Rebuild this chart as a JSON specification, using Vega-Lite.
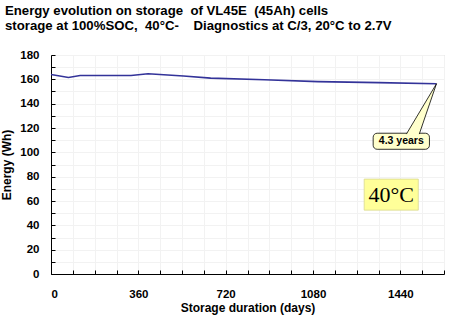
{
  "$schema": "https://vega.github.io/schema/vega-lite/v6.json",
  "autosize": {"type": "none"},
  "padding": {"left": 51, "top": 55, "right": 6, "bottom": 49},
  "width": 393,
  "height": 219,
  "background": "white",
  "title": {
    "text": ["Energy evolution on storage\u00a0 of VL45E\u00a0 (45Ah) cells", "storage at 100%SOC,\u00a0 40°C-\u00a0\u00a0\u00a0 Diagnostics at C/3, 20°C to 2.7V"],
    "anchor": "start",
    "frame": "group",
    "dx": -46,
    "offset": 16,
    "font": "Liberation Sans",
    "fontSize": 13.2,
    "fontWeight": "bold",
    "lineHeight": 15,
    "color": "black"
  },
  "config": {
    "view": {"stroke": "#c8c8c8", "strokeWidth": 1},
    "axis": {
      "labelFont": "Liberation Sans",
      "labelFontSize": 11.5,
      "labelFontWeight": "bold",
      "labelColor": "black",
      "labelOverlap": false,
      "titleFont": "Liberation Sans",
      "titleFontSize": 12,
      "titleFontWeight": "bold",
      "titleColor": "black",
      "domainColor": "black",
      "tickColor": "black",
      "gridColor": "#f2f2f2"
    }
  },
  "encoding": {
    "x": {
      "field": "x", "type": "quantitative",
      "scale": {"domain": [0, 1620], "nice": false},
      "axis": {
        "title": "Storage duration (days)",
        "values": [0, 90, 180, 270, 360, 450, 540, 630, 720, 810, 900, 990, 1080, 1170, 1260, 1350, 1440, 1530, 1620],
        "labelExpr": "datum.value % 360 === 0 && datum.value < 1600 ? datum.label : ''",
        "labelOverlap": false,
        "tickSize": -4,
        "labelPadding": 18,
        "titlePadding": 3,
        "format": "d"
      }
    },
    "y": {
      "field": "y", "type": "quantitative",
      "scale": {"domain": [0, 180], "nice": false},
      "axis": {
        "title": "Energy (Wh)",
        "values": [0, 10, 20, 30, 40, 50, 60, 70, 80, 90, 100, 110, 120, 130, 140, 150, 160, 170, 180],
        "labelExpr": "datum.value % 20 === 0 ? datum.label : ''",
        "labelOverlap": false,
        "tickSize": -4,
        "labelPadding": 16,
        "titlePadding": 6
      }
    }
  },
  "layer": [
    {
      "data": {"values": [
        {"x": 0, "y": 164.0},
        {"x": 72, "y": 161.5},
        {"x": 120, "y": 163.2},
        {"x": 330, "y": 163.2},
        {"x": 400, "y": 164.6},
        {"x": 546, "y": 162.7},
        {"x": 658, "y": 161.0},
        {"x": 880, "y": 159.6},
        {"x": 1100, "y": 158.1},
        {"x": 1350, "y": 157.3},
        {"x": 1589, "y": 156.4}
      ]},
      "mark": {"type": "line", "color": "#333399", "strokeWidth": 1.6}
    },
    {
      "data": {"values": [{"x": 1291, "x2": 1514, "y": 52.5, "y2": 78}]},
      "mark": {"type": "rect", "fill": "#ffff99", "stroke": "#d8d890", "strokeWidth": 0.8},
      "encoding": {
        "x2": {"field": "x2"},
        "y2": {"field": "y2"}
      }
    },
    {
      "data": {"values": [{"x": 1402, "y": 65.2, "label": "40°C"}]},
      "mark": {"type": "text", "font": "Liberation Serif", "fontSize": 22, "color": "black", "align": "center", "baseline": "middle"},
      "encoding": {
        "text": {"field": "label"}
      }
    },
    {
      "data": {"values": [{"x": 1328, "x2": 1560, "y": 102.5, "y2": 115.7}]},
      "mark": {"type": "rect", "fill": "#ffffcc", "stroke": "black", "strokeWidth": 0.8, "cornerRadius": 4},
      "encoding": {
        "x2": {"field": "x2"},
        "y2": {"field": "y2"}
      }
    },
    {
      "data": {"values": [
        {"x": 1465, "y": 115.0, "o": 1},
        {"x": 1589, "y": 156.4, "o": 2},
        {"x": 1518, "y": 115.0, "o": 3}
      ]},
      "mark": {"type": "line", "fill": "#ffffcc", "stroke": "black", "strokeWidth": 0.8},
      "encoding": {
        "order": {"field": "o"}
      }
    },
    {
      "data": {"values": [{"x": 1444, "y": 109.1, "label": "4.3 years"}]},
      "mark": {"type": "text", "font": "Liberation Sans", "fontSize": 10.5, "fontWeight": "bold", "color": "black", "align": "center", "baseline": "middle"},
      "encoding": {
        "text": {"field": "label"}
      }
    }
  ]
}
